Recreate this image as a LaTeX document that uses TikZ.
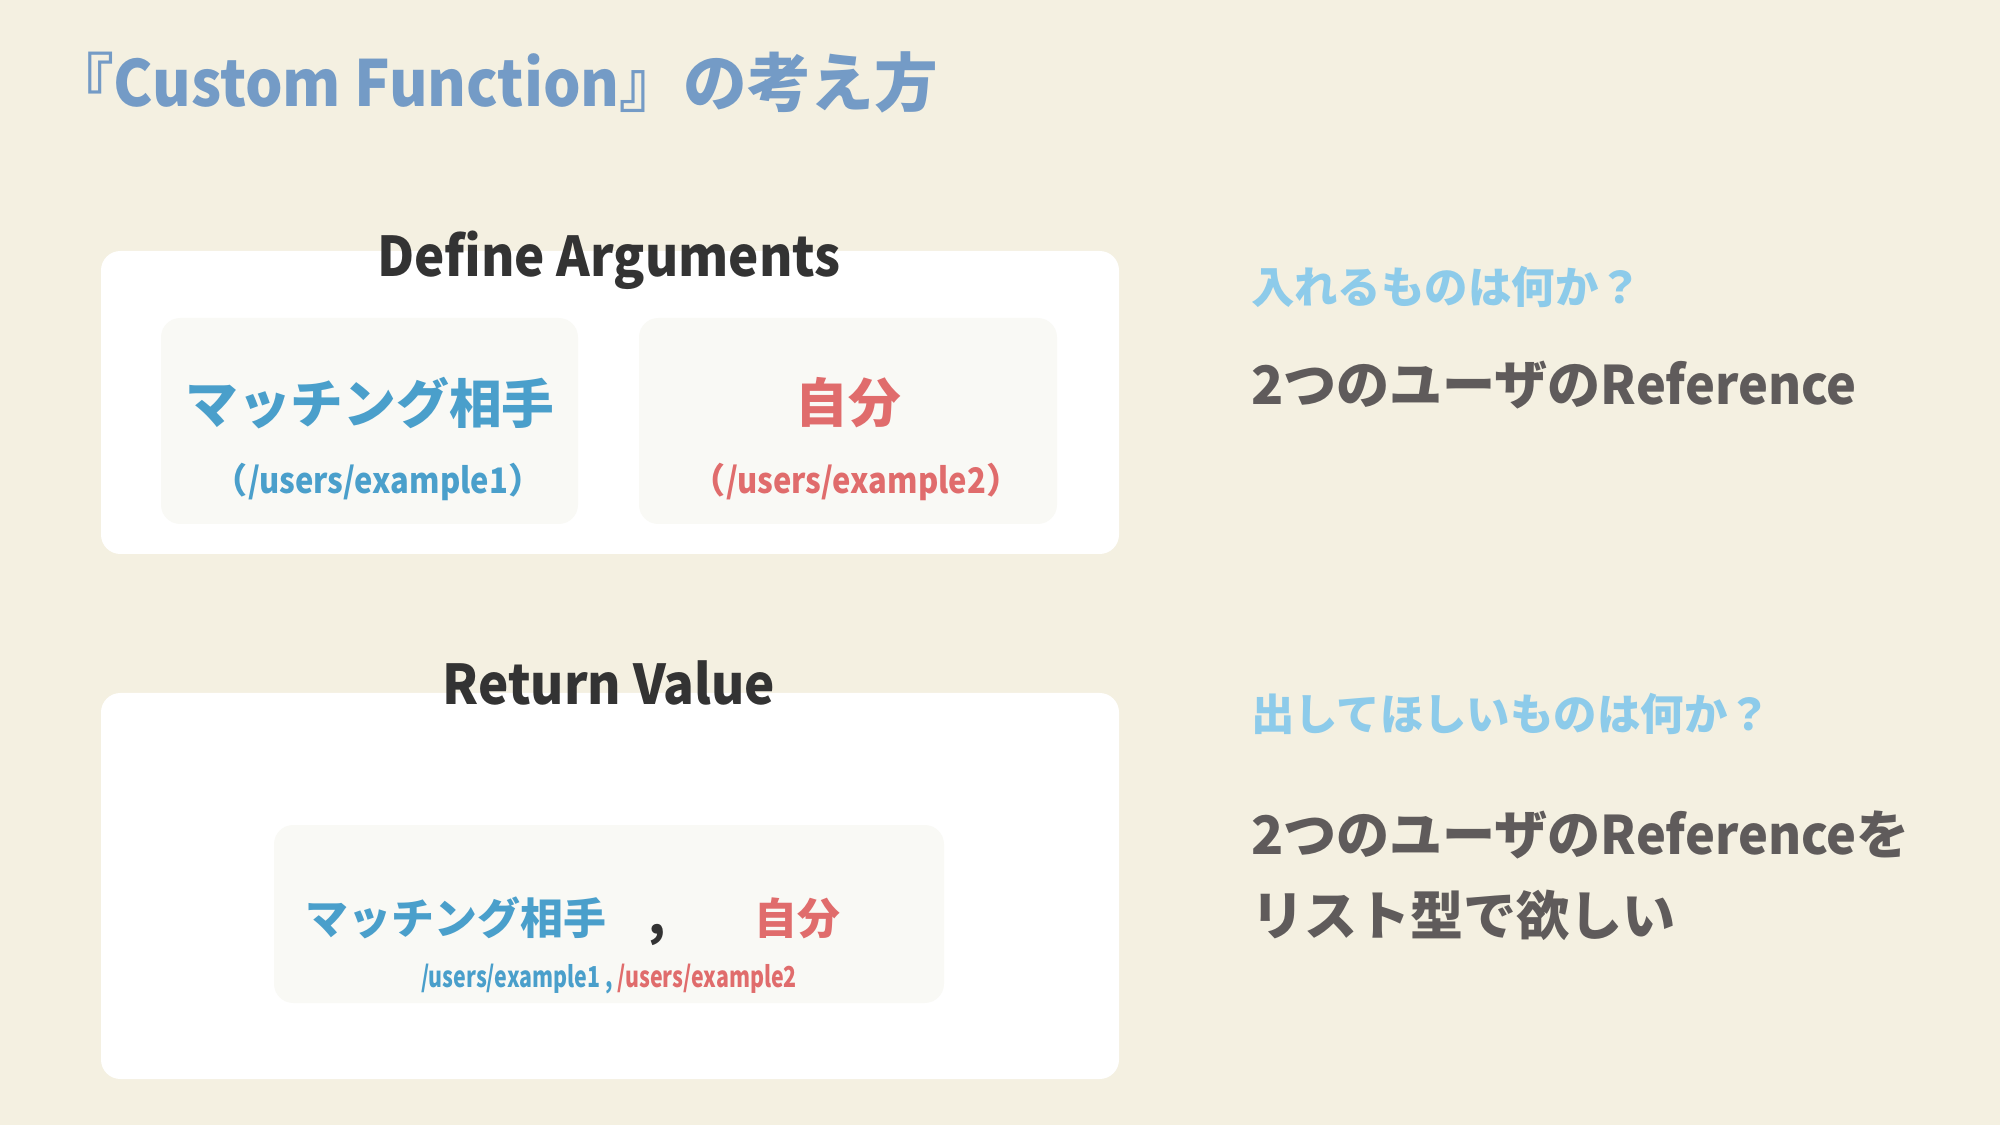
\documentclass[tikz,border=0pt]{standalone}
\usepackage{fontspec}
\setmainfont{Noto Sans CJK JP}
\definecolor{cream}{HTML}{F4F0E1}
\definecolor{slotgray}{HTML}{F9F9F5}
\definecolor{titleblue}{HTML}{749BC6}
\definecolor{partnerblue}{HTML}{4A9FCB}
\definecolor{selfred}{HTML}{E06C6C}
\definecolor{inkdark}{HTML}{333333}
\definecolor{notegray}{HTML}{5F5B5B}
\definecolor{asklight}{HTML}{8DCBEA}
\newcommand{\fs}[1]{\fontsize{#1pt}{#1pt}\selectfont\bfseries}
\newcommand{\cond}[2]{\scalebox{#1}[1]{#2}}
\begin{document}
\begin{tikzpicture}[x=0.01cm,y=-0.01cm,
    card/.style={fill=white, rounded corners=5.5pt},
    slot/.style={fill=slotgray, rounded corners=5.5pt},
    txt/.style={inner sep=0pt, outer sep=0pt}]
    \fill[cream] (0,0) rectangle (2000,1125);
    \useasboundingbox (0,0) rectangle (2000,1125);
    \node[txt, anchor=base west, text=titleblue, font=\fs{18.1}] (title) at (50,107) {『\cond{0.93}{Custom Function}』の考え方};

    \fill[card] (101,251) rectangle (1119,554);
    \fill[slot] (161,318) rectangle (578,524);
    \fill[slot] (639,318) rectangle (1057,524);
    \node[txt, anchor=base, text=inkdark, font=\fs{15.6}] (argtitle) at (609,277) {\cond{0.93}{Define Arguments}};
    \node[txt, text=partnerblue, font=\fs{15}] (argpartner) at (370,403) {マッチング相手};
    \node[txt, text=partnerblue, font=\fs{10}] (argpartnerpath) at (378,482) {（\cond{0.88}{/users/example1}）};
    \node[txt, text=selfred, font=\fs{15}] (argself) at (848,403) {自分};
    \node[txt, text=selfred, font=\fs{10}] (argselfpath) at (856,482) {（\cond{0.88}{/users/example2}）};

    \fill[card] (101,693) rectangle (1119,1079);
    \fill[slot] (274,825) rectangle (944,1003);
    \node[txt, anchor=base, text=inkdark, font=\fs{15.6}] (rettitle) at (609,705) {\cond{0.93}{Return Value}};
    \node[txt, text=partnerblue, font=\fs{12.2}] (retpartner) at (456,918) {マッチング相手};
    \node[txt, anchor=base, text=inkdark, font=\fs{14}] (retcomma) at (657,934) {,};
    \node[txt, text=selfred, font=\fs{12.2}] (retself) at (797,918) {自分};
    \node[txt, anchor=base, font=\fs{8.2}] (retpaths) at (609,987) {\cond{0.74}{\textcolor{partnerblue}{/users/example1 ,} \textcolor{selfred}{/users/example2}}};

    \node[txt, anchor=west, text=asklight, font=\fs{12.35}] (askin) at (1251,287) {入れるものは何か？};
    \node[txt, anchor=west, text=notegray, font=\fs{15.1}] (answerin) at (1251,385) {2つのユーザの\cond{0.95}{Reference}};
    \node[txt, anchor=west, text=asklight, font=\fs{12.35}] (askout) at (1251,714) {出してほしいものは何か？};
    \node[txt, anchor=west, text=notegray, font=\fs{15.1}] (answerout) at (1251,835) {2つのユーザの\cond{0.95}{Reference}を};
    \node[txt, anchor=west, text=notegray, font=\fs{15.1}] (answerout2) at (1251,915) {リスト型で欲しい};
\end{tikzpicture}
\end{document}
